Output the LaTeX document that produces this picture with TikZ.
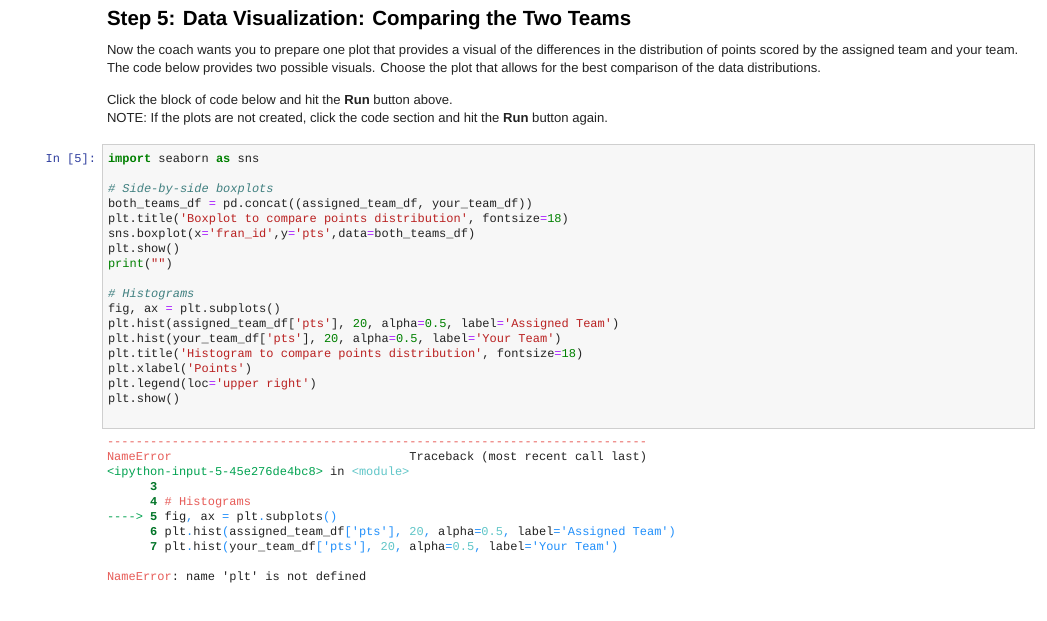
\documentclass[tikz,border=0pt]{standalone}
\usepackage{fontspec}
\setmainfont{Liberation Sans}
\setmonofont{Liberation Mono}
\definecolor{kwc}{HTML}{008000}
\definecolor{stc}{HTML}{BA2121}
\definecolor{cmc}{HTML}{408080}
\definecolor{opc}{HTML}{AA22FF}
\definecolor{prc}{HTML}{303F9F}
\definecolor{bxf}{HTML}{F7F7F7}
\definecolor{bxd}{HTML}{CFCFCF}
\definecolor{tred}{HTML}{E75C58}
\definecolor{tgrn}{HTML}{00A250}
\definecolor{tdgr}{HTML}{007427}
\definecolor{tcyn}{HTML}{60C6C8}
\definecolor{tblu}{HTML}{208FFB}
\definecolor{ink}{HTML}{222222}
\newcommand\xkw[1]{\textcolor{kwc}{\bfseries #1}}
\newcommand\xbi[1]{\textcolor{kwc}{#1}}
\newcommand\xst[1]{\textcolor{stc}{#1}}
\newcommand\xcm[1]{\textcolor{cmc}{\itshape #1}}
\newcommand\xop[1]{\textcolor{opc}{#1}}
\newcommand\xnm[1]{\textcolor{kwc}{#1}}
\newcommand\xtr[1]{\textcolor{tred}{#1}}
\newcommand\xtg[1]{\textcolor{tgrn}{#1}}
\newcommand\xtc[1]{\textcolor{tcyn}{#1}}
\newcommand\xtb[1]{\textcolor{tblu}{#1}}
\newcommand\xln[1]{\textcolor{tdgr}{\bfseries #1}}
\newlength\chw
\setlength\chw{7.2pt}
\newcommand\blanks[1]{\hspace*{#1\chw}}
\tikzset{
  x=1pt,y=-1pt,
  txt/.style={anchor=base west,inner sep=0pt,outer sep=0pt,text=ink,font=\fontsize{13.1pt}{15pt}\selectfont},
  head/.style={anchor=base west,inner sep=0pt,outer sep=0pt,text=black,font=\fontsize{20.5pt}{25pt}\selectfont\bfseries},
  code/.style={anchor=base west,inner sep=0pt,outer sep=0pt,text=ink,font=\fontsize{12pt}{15pt}\selectfont\ttfamily},
  prompt/.style={anchor=base east,inner sep=0pt,outer sep=0pt,text=prc,font=\fontsize{12pt}{15pt}\selectfont\ttfamily},
  cellbox/.style={draw=bxd,fill=bxf,line width=0.8pt,minimum width=932pt,minimum height=283.5pt,anchor=north west,inner sep=0pt}
}
\begin{document}
\begin{tikzpicture}
\useasboundingbox (0,0) rectangle (1047,621);
\fill[white] (0,0) rectangle (1047,621);
\node[head] (title) at (107,25) {Step 5: Data Visualization: Comparing the Two Teams};
\node[txt] (p1) at (107,54) {Now the coach wants you to prepare one plot that provides a visual of the differences in the distribution of points scored by the assigned team and your team.};
\node[txt] (p2) at (107,72) {The code below provides two possible visuals. Choose the plot that allows for the best comparison of the data distributions.};
\node[txt] (p3) at (107,104.5) {Click the block of code below and hit the \textbf{Run} button above.};
\node[txt] (p4) at (107,122) {NOTE: If the plots are not created, click the code section and hit the \textbf{Run} button again.};
\node[cellbox] (cell) at (102,144) {};
\node[prompt] (inp) at (96,162.8) {In [5]:};
\node[code] (c01) at (108,162.8) {\xkw{import} seaborn \xkw{as} sns};
\node[code] (c03) at (108,192.8) {\xcm{\# Side-by-side boxplots}};
\node[code] (c04) at (108,207.8) {both\_teams\_df \xop{=} pd.concat((assigned\_team\_df, your\_team\_df))};
\node[code] (c05) at (108,222.8) {plt.title(\xst{'Boxplot to compare points distribution'}, fontsize\xop{=}\xnm{18})};
\node[code] (c06) at (108,237.8) {sns.boxplot(x\xop{=}\xst{'fran\_id'},y\xop{=}\xst{'pts'},data\xop{=}both\_teams\_df)};
\node[code] (c07) at (108,252.8) {plt.show()};
\node[code] (c08) at (108,267.8) {\xbi{print}(\xst{""})};
\node[code] (c10) at (108,297.8) {\xcm{\# Histograms}};
\node[code] (c11) at (108,312.8) {fig, ax \xop{=} plt.subplots()};
\node[code] (c12) at (108,327.8) {plt.hist(assigned\_team\_df[\xst{'pts'}], \xnm{20}, alpha\xop{=}\xnm{0.5}, label\xop{=}\xst{'Assigned Team'})};
\node[code] (c13) at (108,342.8) {plt.hist(your\_team\_df[\xst{'pts'}], \xnm{20}, alpha\xop{=}\xnm{0.5}, label\xop{=}\xst{'Your Team'})};
\node[code] (c14) at (108,357.8) {plt.title(\xst{'Histogram to compare points distribution'}, fontsize\xop{=}\xnm{18})};
\node[code] (c15) at (108,372.8) {plt.xlabel(\xst{'Points'})};
\node[code] (c16) at (108,387.8) {plt.legend(loc\xop{=}\xst{'upper right'})};
\node[code] (c17) at (108,402.8) {plt.show()};
\node[code] (t01) at (107,445.5) {\xtr{---------------------------------------------------------------------------}};
\node[code] (t02) at (107,460.5) {\xtr{NameError}\blanks{33}Traceback (most recent call last)};
\node[code] (t03) at (107,475.5) {\xtg{<ipython-input-5-45e276de4bc8>} in \xtc{<module>}};
\node[code] (t04) at (107,490.5) {\blanks{6}\xln{3}};
\node[code] (t05) at (107,505.5) {\blanks{6}\xln{4} \xtr{\# Histograms}};
\node[code] (t06) at (107,520.5) {\xtg{---->} \xln{5} fig\xtb{,} ax \xtb{=} plt\xtb{.}subplots\xtb{()}};
\node[code] (t07) at (107,535.5) {\blanks{6}\xln{6} plt\xtb{.}hist\xtb{(}assigned\_team\_df\xtb{[}\xtb{'pts'}\xtb{],} \xtc{20}\xtb{,} alpha\xtb{=}\xtc{0.5}\xtb{,} label\xtb{=}\xtb{'Assigned Team')}};
\node[code] (t08) at (107,550.5) {\blanks{6}\xln{7} plt\xtb{.}hist\xtb{(}your\_team\_df\xtb{[}\xtb{'pts'}\xtb{],} \xtc{20}\xtb{,} alpha\xtb{=}\xtc{0.5}\xtb{,} label\xtb{=}\xtb{'Your Team')}};
\node[code] (t09) at (107,580.5) {\xtr{NameError}: name 'plt' is not defined};
\end{tikzpicture}
\end{document}
